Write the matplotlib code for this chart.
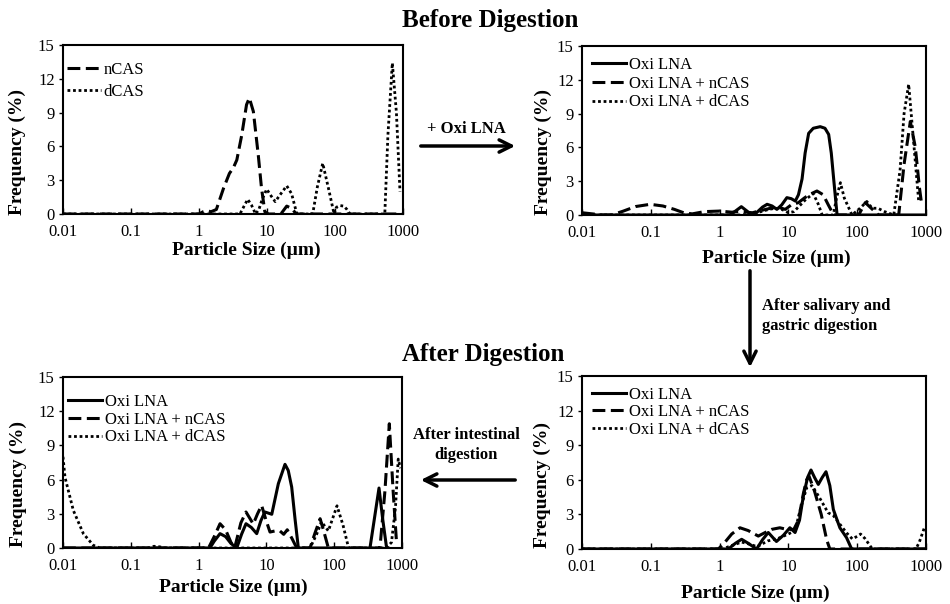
import matplotlib
matplotlib.use("Agg")
import matplotlib.pyplot as plt
from matplotlib.patches import FancyArrowPatch

plt.rcParams['font.family'] = ['Liberation Serif', 'DejaVu Serif']

# ---- data (particle size in um, frequency in %) ----
# Before digestion, panel 1
before_ncas_size = [0.01, 1.0, 1.15, 1.3, 1.5, 1.8, 2.3, 2.8, 3.2, 3.6, 4.25, 5.0, 5.5, 6.3, 7.45, 8.3, 9.3,
                    10.5, 16, 19.5, 23, 27, 1000]
before_ncas_freq = [0, 0, 0.2, 0.3, 0.2, 0.4, 2.3, 3.6, 4.1, 4.8, 7.0, 9.7, 10.3, 9.1, 5.2, 2.3, 0.2,
                    0, 0, 0.7, 0.5, 0, 0]
before_dcas_size = [0.01, 4.0, 4.6, 5.2, 5.9, 6.8, 7.6, 8.5, 9.9, 11.5, 13.2, 16, 19.5, 23, 27.5, 47, 55, 66,
                    80, 97, 105, 118, 135, 150, 166, 540, 600, 697, 800, 903]
before_dcas_freq = [0, 0, 0.7, 1.3, 0.8, 0, 0.4, 1.3, 2.2, 1.6, 1.1, 1.8, 2.5, 1.8, 0, 0, 2.4, 4.5,
                    2.3, 0, 0.6, 0.75, 0.7, 0.4, 0, 0, 7.0, 13.4, 9.0, 2.0]

# Before digestion + Oxi LNA, panel 2
oxi_size = [0.01, 0.015, 1.4, 1.7, 2.07, 2.5, 2.9, 3.3, 4.2, 4.9, 5.8, 6.8, 8.0, 9.5, 11, 12.6, 14, 15.8,
            17.5, 19.7, 23, 29, 34, 38.5, 42, 45.5, 51, 1000]
oxi_freq = [0.15, 0, 0, 0.35, 0.74, 0.35, 0, 0.1, 0.7, 0.95, 0.8, 0.5, 0.9, 1.54, 1.45, 1.24, 1.8, 3.2,
            5.5, 7.25, 7.7, 7.84, 7.7, 7.15, 5.5, 3.2, 0, 0]
oxi_ncas_size = [0.01, 0.02, 0.027, 0.04, 0.06, 0.098, 0.15, 0.22, 0.3, 0.4, 0.6, 1.0, 1.5, 2.0, 3.0, 4.0,
                 5.5, 7.0, 9.0, 11, 14, 17, 20, 26, 32, 38, 45.5, 105, 131, 160, 204, 401, 480, 592, 700,
                 800, 871]
oxi_ncas_freq = [0.2, 0, 0, 0.35, 0.75, 0.95, 0.8, 0.5, 0.2, 0.1, 0.3, 0.35, 0.25, 0.3, 0.2, 0.4,
                 0.6, 0.7, 0.5, 0.9, 1.1, 1.5, 1.8, 2.13, 1.8, 0.9, 0, 0, 1.1, 0.6, 0, 0, 4.5, 8.3, 6.0,
                 2.5, 0.8]
oxi_dcas_size = [0.01, 2.0, 3.0, 4.0, 5.2, 6.5, 8.0, 10, 12, 15, 18, 23, 27, 31, 45, 50, 57, 65, 84, 110,
                 138, 165, 200, 250, 340, 420, 480, 560, 650, 781]
oxi_dcas_freq = [0, 0, 0.1, 0.3, 0.5, 0.6, 0.5, 0.2, 0.3, 0.9, 1.4, 1.9, 1.0, 0, 0, 1.5, 2.87, 1.5, 0, 0.6,
                 1.2, 0.6, 0.6, 0.3, 0, 4.0, 9.0, 11.6, 7.0, 1.3]

# After intestinal digestion, panel 3
int_oxi_size = [0.01, 1.47, 1.7, 2.07, 2.5, 3.0, 3.65, 4.3, 5.0, 6.0, 7.2, 8.3, 9.5, 12, 15, 18.8, 21,
                23.6, 26.5, 29.6, 337, 390, 458, 520, 593, 620]
int_oxi_freq = [0, 0, 0.6, 1.26, 1.0, 0.4, 0, 1.2, 2.13, 1.8, 1.26, 2.4, 3.16, 2.96, 5.64, 7.34, 6.8,
                5.35, 2.5, 0, 0, 2.5, 5.26, 2.5, 0, 0]
int_ncas_size = [0.01, 1.4, 1.7, 2.07, 2.5, 3.0, 3.4, 4.2, 5.0, 5.7, 6.4, 7.4, 8.5, 9.8, 11.3, 13.5, 15.8,
                 18, 20.3, 24, 28, 44, 52, 62, 70, 82, 473, 560, 650, 740, 830]
int_ncas_freq = [0, 0, 1.0, 2.13, 1.6, 0.5, 0, 2.2, 3.16, 2.6, 2.1, 3.0, 3.74, 2.5, 1.4, 1.5, 1.5,
                 1.2, 1.6, 0.8, 0, 0, 1.3, 2.57, 1.5, 0, 0, 5.0, 10.9, 5.0, 0.5]
int_dcas_size = [0.01, 0.0107, 0.0142, 0.02, 0.028, 0.035, 0.18, 0.22, 0.27, 0.3, 44, 55, 65, 75, 82, 95,
                 110, 135, 163, 590, 700, 800, 880, 950]
int_dcas_freq = [8.0, 6.2, 3.3, 1.25, 0.24, 0, 0, 0.15, 0.1, 0, 0, 1.2, 2.3, 1.8, 1.5, 2.6,
                 3.7, 2.0, 0, 0, 0.5, 3.5, 7.8, 7.0]

# After salivary and gastric digestion, panel 4
gas_oxi_size = [0.01, 1.34, 1.7, 2.09, 2.6, 3.45, 4.2, 5.1, 6.7, 8.5, 10.5, 12.5, 14.5, 16.5, 19, 21.3,
                24, 27.2, 31, 35.2, 40, 45, 56, 70, 83, 1000]
gas_oxi_freq = [0, 0, 0.5, 0.84, 0.5, 0, 0.8, 1.43, 0.65, 1.2, 1.84, 1.43, 2.5, 4.6, 6.2, 6.85,
                6.2, 5.6, 6.2, 6.7, 5.5, 3.43, 1.84, 0.98, 0, 0]
gas_ncas_size = [0.01, 0.96, 1.2, 1.5, 1.98, 2.6, 3.65, 4.5, 5.7, 7.5, 9.5, 12, 14, 16.5, 18.4, 20, 24,
                 30, 36, 40, 1000]
gas_ncas_freq = [0, 0, 0.6, 1.3, 1.84, 1.6, 1.12, 1.4, 1.7, 1.84, 1.7, 1.7, 2.5, 4.8, 6.0, 6.3, 5.0,
                 3.0, 0.8, 0, 0]
gas_dcas_size = [0.01, 1.1, 1.5, 2.09, 2.8, 3.5, 5.0, 7.0, 10, 12.5, 15, 18.4, 22, 28, 37.7, 45, 52, 70,
                 85, 100, 112, 130, 166, 713, 800, 946]
gas_dcas_freq = [0, 0, 0.3, 0.6, 0.4, 0.2, 0.7, 0.9, 1.3, 1.6, 3.5, 5.3, 5.5, 4.5, 3.15, 2.9, 2.4, 1.4,
                 0.87, 1.1, 1.3, 0.9, 0, 0, 0.6, 1.84]

x_ticks = [0.01, 0.1, 1, 10, 100, 1000]
x_tick_labels = ['0.01', '0.1', '1', '10', '100', '1000']
y_ticks = [0, 3, 6, 9, 12, 15]

W, H = 950, 604
SOLID = dict(color='black', lw=2.2, ls='-')
DASHED = dict(color='black', lw=2.2, ls=(0, (4.2, 1.8)))
DOTTED = dict(color='black', lw=2.0, ls=(0, (1, 1)))


def make_axes(box, xlab_pos, ylab_pos, legend_x, legend_rows_top, row_gap):
    # box = (left, top, right, bottom) in pixels from the top-left corner
    l, t, r, b = box
    ax = fig.add_axes([l / W, 1 - b / H, (r - l) / W, (b - t) / H])
    ax.set_xscale('log')
    ax.set_xlim(0.01, 1000)
    ax.set_ylim(0, 15)
    ax.set_xticks(x_ticks)
    ax.set_xticklabels(x_tick_labels)
    ax.minorticks_off()
    ax.set_yticks(y_ticks)
    ax.tick_params(axis='x', direction='in', length=4, width=1, labelsize=12, pad=7)
    ax.tick_params(axis='y', direction='out', length=3, width=1, labelsize=12, pad=3)
    for s in ax.spines.values():
        s.set_linewidth(1.5)
    ax.set_xlabel('Particle Size (µm)', fontsize=14, fontweight='bold', va='center')
    ax.set_ylabel('Frequency (%)', fontsize=14, fontweight='bold', va='center')
    ax.xaxis.set_label_coords((xlab_pos[0] - l) / (r - l), (b - xlab_pos[1]) / (b - t))
    ax.yaxis.set_label_coords((ylab_pos[0] - l) / (r - l), (b - ylab_pos[1]) / (b - t))
    fs_px = 12 * 100 / 72
    ax._leg_args = dict(loc='upper left', frameon=False, fontsize=12, handlelength=2.05,
                        handletextpad=0.15, borderpad=0,
                        labelspacing=(row_gap + 1 - fs_px) / fs_px,
                        bbox_to_anchor=(legend_x / W, 1 - (legend_rows_top + 2 - 0.5 * fs_px) / H),
                        bbox_transform=fig.transFigure, borderaxespad=0)
    return ax


fig = plt.figure(figsize=(9.5, 6.04), dpi=100)

ax1 = make_axes((63, 45, 403, 214), (246, 250), (17, 152), 67, 68, 22)
ax1.plot(before_ncas_size, before_ncas_freq, label='nCAS', **DASHED)
ax1.plot(before_dcas_size, before_dcas_freq, label='dCAS', **DOTTED)

ax2 = make_axes((582, 46, 926, 215), (776, 258), (543, 152), 592, 63, 18.5)
ax2.plot(oxi_size, oxi_freq, label='Oxi LNA', **SOLID)
ax2.plot(oxi_ncas_size, oxi_ncas_freq, label='Oxi LNA + nCAS', **DASHED)
ax2.plot(oxi_dcas_size, oxi_dcas_freq, label='Oxi LNA + dCAS', **DOTTED)

ax3 = make_axes((63, 377, 402, 548), (233, 587), (18, 484), 68, 400, 17.5)
ax3.plot(int_oxi_size, int_oxi_freq, label='Oxi LNA', **SOLID)
ax3.plot(int_ncas_size, int_ncas_freq, label='Oxi LNA + nCAS', **DASHED)
ax3.plot(int_dcas_size, int_dcas_freq, label='Oxi LNA + dCAS', **DOTTED)

ax4 = make_axes((582, 376, 926, 549), (755, 593), (542, 485), 592, 393, 17.2)
ax4.plot(gas_oxi_size, gas_oxi_freq, label='Oxi LNA', **SOLID)
ax4.plot(gas_ncas_size, gas_ncas_freq, label='Oxi LNA + nCAS', **DASHED)
ax4.plot(gas_dcas_size, gas_dcas_freq, label='Oxi LNA + dCAS', **DOTTED)

for ax in (ax1, ax2, ax3, ax4):
    ax.legend(**ax._leg_args)

# headings
fig.text(490 / W, 1 - 20 / H, 'Before Digestion', ha='center', va='center',
         fontsize=18, fontweight='bold')
fig.text(483 / W, 1 - 355 / H, 'After Digestion', ha='center', va='center',
         fontsize=18, fontweight='bold')

# process arrows (figure pixel coordinates)
arrow = dict(arrowstyle='->', lw=2.5, color='black', mutation_scale=22)
fig.add_artist(FancyArrowPatch((418, H - 146), (518, H - 146), transform=None, **arrow))
fig.text(466 / W, 1 - 129 / H, '+ Oxi LNA', ha='center', va='center',
         fontsize=12, fontweight='bold')

fig.add_artist(FancyArrowPatch((750, H - 268), (750, H - 370), transform=None, **arrow))
fig.text(762 / W, 1 - 316 / H, 'After salivary and\ngastric digestion', ha='left', va='center',
         fontsize=12, fontweight='bold', linespacing=1.3)

fig.add_artist(FancyArrowPatch((518, H - 480), (418, H - 480), transform=None, **arrow))
fig.text(466 / W, 1 - 445 / H, 'After intestinal\ndigestion', ha='center', va='center',
         fontsize=12, fontweight='bold', linespacing=1.3)

fig.savefig('out.png', dpi=100)
